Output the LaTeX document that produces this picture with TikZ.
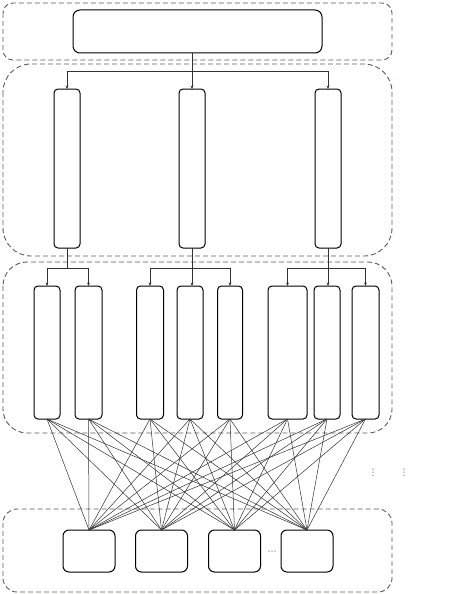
\documentclass[tikz,border=0pt]{standalone}
\usepackage{fontspec}
\newfontfamily\dvfont{DejaVu Sans}
\usetikzlibrary{arrows.meta}
\definecolor{dashc}{RGB}{112,82,82}
\definecolor{meshc}{RGB}{50,50,50}
\definecolor{dotc}{RGB}{100,100,100}
\begin{document}
\begin{tikzpicture}[x=1pt,y=-1pt,
  box/.style={draw=black, line width=1pt, rounded corners=4pt, inner sep=0pt, outer sep=0pt, fill=white},
  tall/.style={box, minimum width=26pt, minimum height=159pt},
  mid/.style={box, minimum height=133pt},
  bot/.style={box, rounded corners=6pt, minimum width=52pt, minimum height=42pt},
  group/.style={draw=dashc, line width=0.9pt, dash pattern=on 5pt off 3pt},
  arr/.style={draw=meshc, line width=0.6pt, -{Stealth[length=3.5pt,width=2.8pt]}},
  link/.style={draw=meshc, line width=0.6pt},
  mesh/.style={draw=meshc, line width=0.5pt},
  dots/.style={text=dotc, inner sep=0pt, font=\dvfont\small}]
\useasboundingbox (0,0) rectangle (474,594);
% dashed groups
\draw[group, rounded corners=10pt] (3,3) rectangle (392,60);
\draw[group, rounded corners=28pt] (3,64) rectangle (392,256);
\draw[group, rounded corners=24pt] (3,262) rectangle (392,433);
\draw[group, rounded corners=14pt] (3,509) rectangle (392,592);
% top
\node[box, rounded corners=7pt, minimum width=249pt, minimum height=43pt] (top) at (197.5,31.5) {};
% level 2
\node[tall] (l2a) at (67,168.5) {};
\node[tall] (l2b) at (192,168.5) {};
\node[tall] (l2c) at (328,168.5) {};
% level 3
\node[mid, minimum width=26pt] (l3a) at (47,352.5) {};
\node[mid, minimum width=27pt] (l3b) at (88.5,352.5) {};
\node[mid, minimum width=27pt] (l3c) at (150,352.5) {};
\node[mid, minimum width=26pt] (l3d) at (190,352.5) {};
\node[mid, minimum width=25pt] (l3e) at (230,352.5) {};
\node[mid, minimum width=39pt] (l3f) at (287.5,352.5) {};
\node[mid, minimum width=26pt] (l3g) at (327,352.5) {};
\node[mid, minimum width=27pt] (l3h) at (365.5,352.5) {};
% bottom
\node[bot] (b1) at (89,551) {};
\node[bot] (b2) at (161.5,551) {};
\node[bot] (b3) at (234.5,551) {};
\node[bot] (b4) at (307,551) {};
% top -> level 2
\coordinate (j0) at (l2b.north |- top.south);
\coordinate (j1) at (192,71);
\draw[arr] (j0) -- (l2b.north);
\draw[arr] (j1) -| (l2a.north);
\draw[arr] (j1) -| (l2c.north);
% level 2 -> level 3
\coordinate (ja) at (67,268);
\draw[link] (l2a.south) -- (ja);
\draw[arr] (ja) -| (l3a.north);
\draw[arr] (ja) -| (l3b.north);
\coordinate (jb) at (192,268);
\draw[arr] (l2b.south) -- (l2b.south |- l3d.north);
\draw[arr] (jb) -| (l3c.north);
\draw[arr] (jb) -| (l3e.north);
\coordinate (jc) at (328,268);
\draw[arr] (l2c.south) -- (l2c.south |- l3g.north);
\draw[arr] (jc) -| (l3f.north);
\draw[arr] (jc) -| (l3h.north);
% full mesh
\foreach \s in {a,b,c,d,e,f,g,h}{
  \foreach \t in {1,2,3,4}{
    \draw[mesh] (l3\s.south) -- (b\t.north);
  }
}
% ellipses
\node[dots] (hd) at (272,553) {⋯};
\node[dots] (v1) at (373,473) {⋮};
\node[dots] (v2) at (404,473) {⋮};
\end{tikzpicture}
\end{document}
